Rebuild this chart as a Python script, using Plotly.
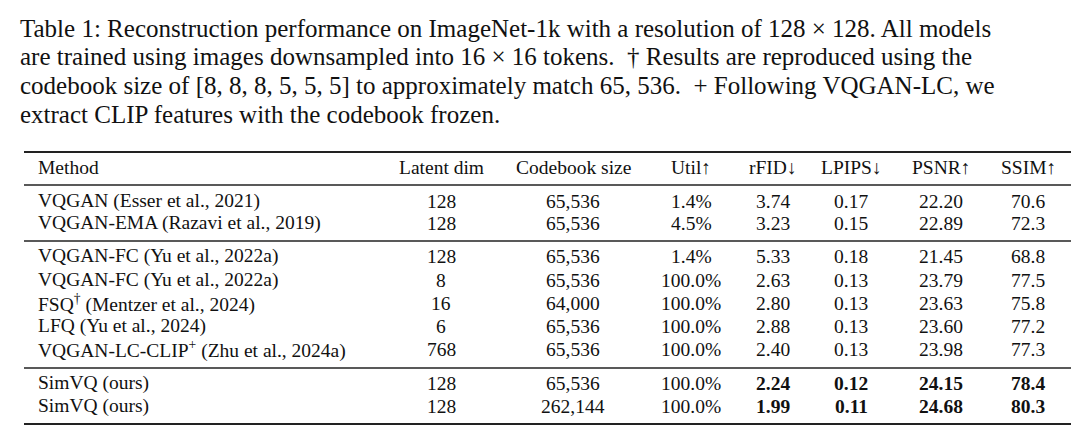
import plotly.graph_objects as go

caption_lines = [
    "Table 1: Reconstruction performance on ImageNet-1k with a resolution of 128 × 128. All models",
    "are trained using images downsampled into 16 × 16 tokens.  † Results are reproduced using the",
    "codebook size of [8, 8, 8, 5, 5, 5] to approximately match 65, 536.  + Following VQGAN-LC, we",
    "extract CLIP features with the codebook frozen.",
]
headers = ["Method", "Latent dim", "Codebook size", "Util↑", "rFID↓", "LPIPS↓", "PSNR↑", "SSIM↑"]
methods = ["VQGAN (Esser et al., 2021)", "VQGAN-EMA (Razavi et al., 2019)",
           "VQGAN-FC (Yu et al., 2022a)", "VQGAN-FC (Yu et al., 2022a)",
           "FSQ<sup>†</sup> (Mentzer et al., 2024)", "LFQ (Yu et al., 2024)",
           "VQGAN-LC-CLIP<sup>+</sup> (Zhu et al., 2024a)",
           "SimVQ (ours)", "SimVQ (ours)"]
latent_dim = ["128", "128", "128", "8", "16", "6", "768", "128", "128"]
codebook_size = ["65,536", "65,536", "65,536", "65,536", "64,000", "65,536", "65,536", "65,536", "262,144"]
util = ["1.4%", "4.5%", "1.4%", "100.0%", "100.0%", "100.0%", "100.0%", "100.0%", "100.0%"]
rfid = ["3.74", "3.23", "5.33", "2.63", "2.80", "2.88", "2.40", "2.24", "1.99"]
lpips = ["0.17", "0.15", "0.18", "0.13", "0.13", "0.13", "0.13", "0.12", "0.11"]
psnr = ["22.20", "22.89", "21.45", "23.79", "23.63", "23.60", "23.98", "24.15", "24.68"]
ssim = ["70.6", "72.3", "68.8", "77.5", "75.8", "77.2", "77.3", "78.4", "80.3"]
bold_rows = [7, 8]

FONT = "Liberation Serif"
caption_y = [20, 48, 77, 106]
header_y = 159
row_y = [193, 215, 248, 272, 295, 318, 341, 375, 398]
rule_y = [(144, 2), (177, 1.3), (233, 1.3), (360, 1.3), (416, 2)]
col_x = [28, 433, 565, 683, 765, 843, 933, 1020]
columns = [methods, latent_dim, codebook_size, util, rfid, lpips, psnr, ssim]

def A(x, y, text, size, anchor):
    return dict(x=x, y=y, text=text, xanchor=anchor, yanchor="middle",
                xref="x", yref="y", showarrow=False,
                font=dict(family=FONT, size=size, color="#111"))

ann = []
for t, y in zip(caption_lines, caption_y):
    ann.append(A(10, y, t, 25, "left"))
for i, (h, x) in enumerate(zip(headers, col_x)):
    ann.append(A(x, header_y, h, 19.5, "left" if i == 0 else "center"))
for ci, (col, x) in enumerate(zip(columns, col_x)):
    for ri, (v, y) in enumerate(zip(col, row_y)):
        txt = f"<b>{v}</b>" if (ci >= 4 and ri in bold_rows) else v
        ann.append(A(x, y, txt, 19.5, "left" if ci == 0 else "center"))
shapes = [dict(type="line", xref="x", yref="y", x0=16, x1=1063, y0=y, y1=y,
               line=dict(color="#222", width=w)) for y, w in rule_y]
fig = go.Figure()
fig.update_layout(width=1080, height=436, margin=dict(l=0, r=0, t=0, b=0),
                  paper_bgcolor="white", plot_bgcolor="white",
                  annotations=ann, shapes=shapes,
                  xaxis=dict(range=[0, 1080], visible=False, fixedrange=True),
                  yaxis=dict(range=[436, 0], visible=False, fixedrange=True),
                  showlegend=False)
fig.write_html("out.html", config={"displayModeBar": False})
